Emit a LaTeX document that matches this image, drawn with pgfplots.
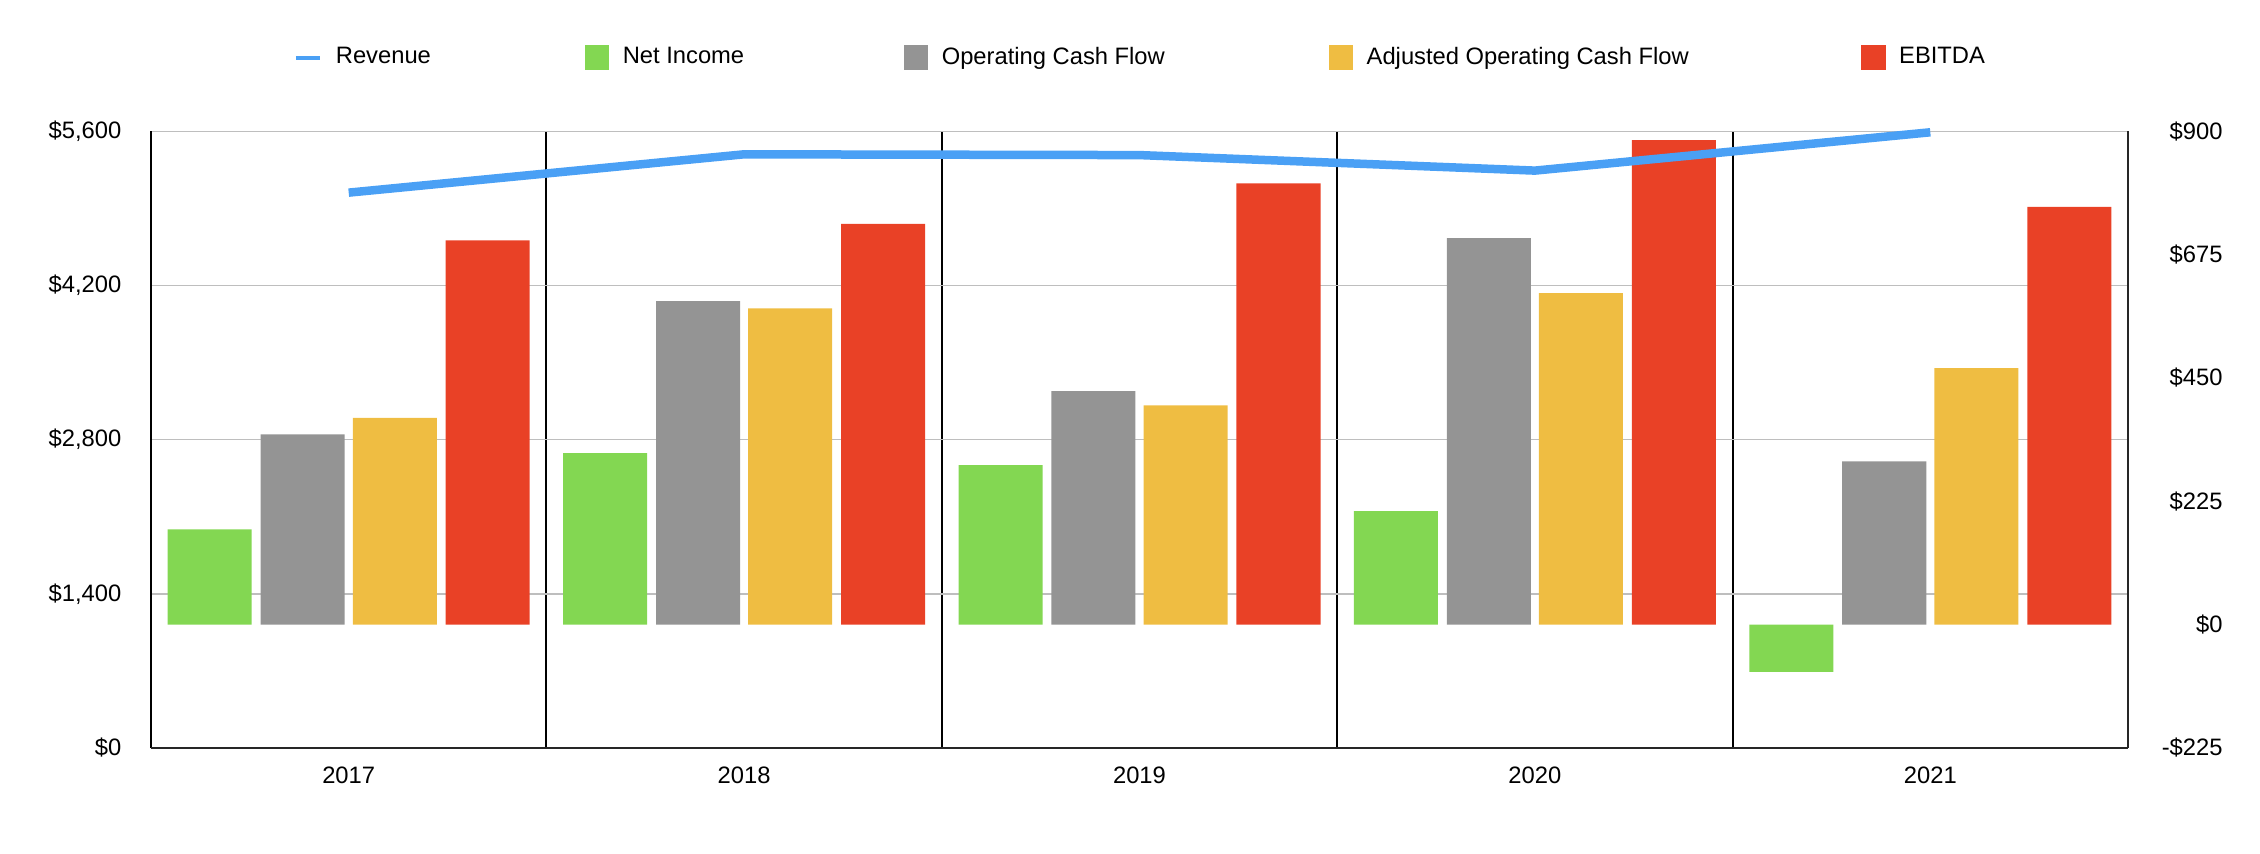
\documentclass[border=0pt]{standalone}
\usepackage{pgfplots}
\pgfplotsset{compat=1.18}
\usepackage{fontspec}
\setmainfont{Liberation Sans}
\definecolor{cblue}{RGB}{74,160,245}
\definecolor{cgreen}{RGB}{131,215,82}
\definecolor{cgray}{RGB}{148,148,148}
\definecolor{cyellow}{RGB}{239,189,66}
\definecolor{cred}{RGB}{233,65,38}
\definecolor{gridgray}{RGB}{190,190,190}
\begin{document}
\begin{tikzpicture}
\pgfplotsset{
  base/.style={
    at={(0,0)}, anchor=south west, scale only axis,
    width=790.8pt, height=246.68pt,
    xmin=-0.5, xmax=4.5,
    major tick length=0pt, minor tick length=0pt,
    tick style={draw=none},
    axis line style={draw=none},
    ticklabel style={font=\fontsize{9.5}{11}\selectfont},
    /pgf/number format/assume math mode=true,
    clip=false,
  },
  legsq/.style={legend image code/.code={\fill[#1] (0pt,-4.95pt) rectangle (9.8pt,4.95pt);}},
}
% bars on the right-hand axis
\begin{axis}[base,
  ymin=-225, ymax=900,
  ytick={-225,0,225,450,675,900},
  yticklabels={-\$225,\$0,\$225,\$450,\$675,\$900},
  yticklabel pos=right,
  yticklabel style={anchor=east, inner sep=0pt, xshift=38pt},
  xtick={0,1,2,3,4},
  xticklabels={2017,2018,2019,2020,2021},
  xticklabel style={anchor=north, inner sep=0pt, yshift=-7.5pt},
  minor xtick={0.5,1.5,2.5,3.5},
  xminorgrids,
  minor x grid style={black, line width=0.8pt},
  extra y ticks={56.25,337.5,618.75,900},
  extra y tick labels={},
  extra y tick style={grid=major, major grid style={gridgray, line width=0.6pt}},
  legend columns=5,
  legend style={at={(0.07233,1.1196)}, anchor=west, draw=none, fill=none,
    inner sep=0pt, outer sep=0pt,
    nodes={inner sep=0pt, font=\fontsize{9.5}{11}\selectfont},
    /tikz/every odd column/.append style={column sep=5.4pt},
    /tikz/every even column/.append style={column sep=61pt}},
]
\addlegendimage{legend image code/.code={\draw[cblue, line width=1.6pt] (0pt,0pt) -- (9.76pt,0pt);}}
\addlegendentry{\makebox[38.56pt][l]{Revenue}}
\addplot[ybar, bar width=0.2125, bar shift=-0.3515, fill=cgreen, draw=none, legsq=cgreen]
  coordinates {(0,174) (1,313) (2,291) (3,207) (4,-86)};
\addlegendentry{\makebox[51.4pt][l]{Net Income}}
\addplot[ybar, bar width=0.2125, bar shift=-0.1165, fill=cgray, draw=none, legsq=cgray]
  coordinates {(0,347) (1,590) (2,426) (3,705) (4,298)};
\addlegendentry{\makebox[93.76pt][l]{Operating Cash Flow}}
\addplot[ybar, bar width=0.2125, bar shift=0.1165, fill=cyellow, draw=none, legsq=cyellow]
  coordinates {(0,377) (1,577) (2,400) (3,605) (4,468)};
\addlegendentry{\makebox[136.8pt][l]{Adjusted Operating Cash Flow}}
\addplot[ybar, bar width=0.2125, bar shift=0.3515, fill=cred, draw=none, legsq=cred]
  coordinates {(0,701) (1,731) (2,805) (3,884) (4,762)};
\addlegendentry{\makebox[34.64pt][l]{EBITDA}}
\draw[black, line width=1pt] (rel axis cs:0,0) -- (rel axis cs:0,1);
\draw[black!85, line width=1pt] (rel axis cs:1,0) -- (rel axis cs:1,1);
\draw[black!85, line width=0.95pt] (rel axis cs:0,0) -- (rel axis cs:1,0);
\end{axis}
% revenue line on the left-hand axis
\begin{axis}[base,
  ymin=0, ymax=5600,
  ytick={0,1400,2800,4200,5600},
  yticklabels={\$0,{\$1,400},{\$2,800},{\$4,200},{\$5,600}},
  yticklabel pos=left,
  yticklabel style={anchor=east, inner sep=0pt, xshift=-11.7pt},
  xtick=\empty,
]
\addplot[cblue, line width=3.4pt] coordinates {(0,5043) (1,5391) (2,5384) (3,5243) (4,5591)};
\end{axis}
\pgfresetboundingbox
\path[use as bounding box] (-60.4pt,-42.4pt) rectangle (843.6pt,299.2pt);
\end{tikzpicture}
\end{document}
